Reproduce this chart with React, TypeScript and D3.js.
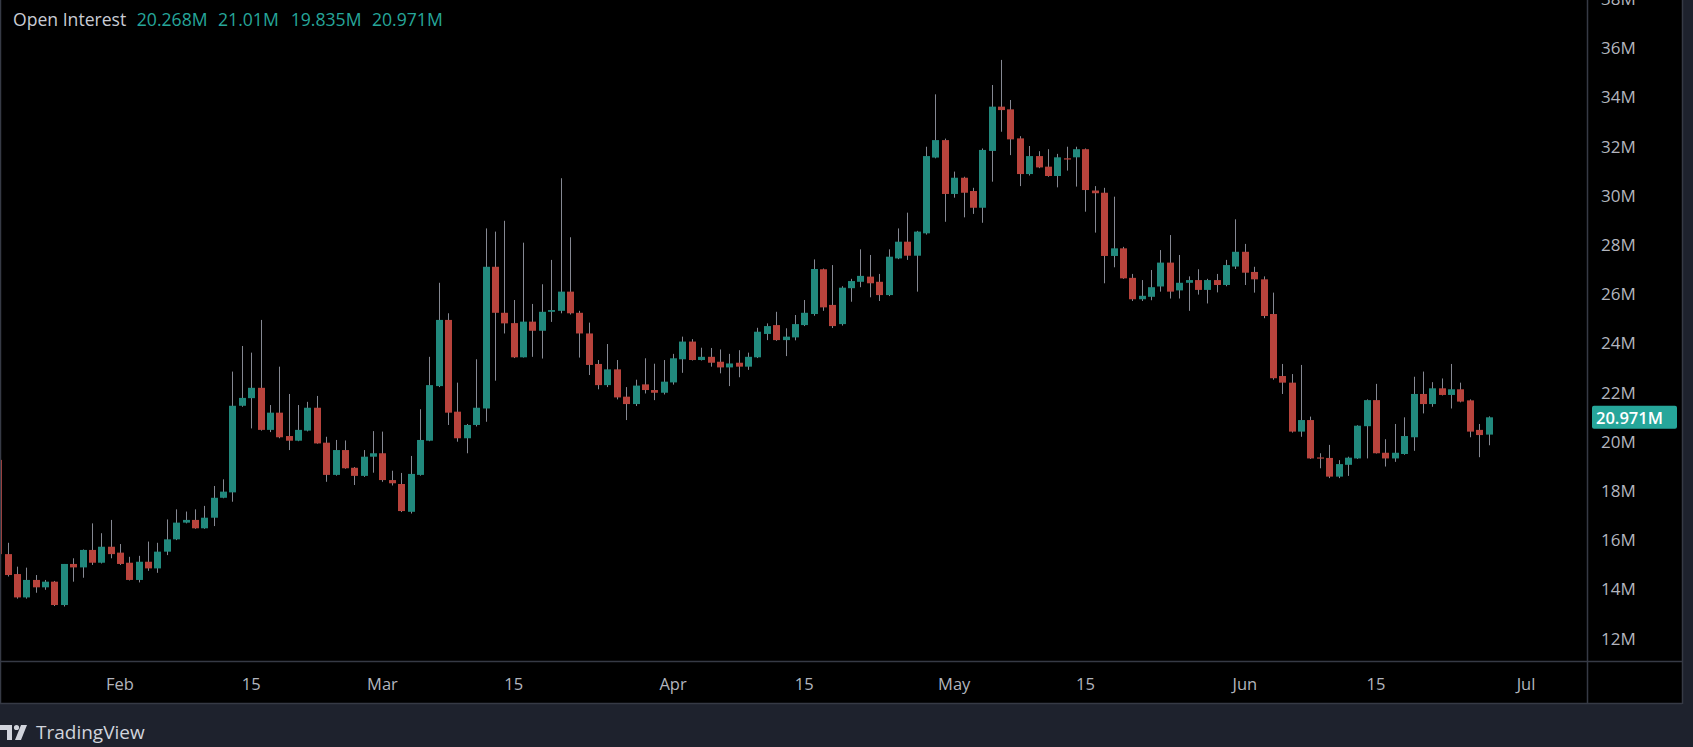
import React from "react";
import * as d3 from "d3";

// Daily open interest candles, 2023-01-19 .. 2023-06-27 (values in millions)
const START_DATE = "2023-01-19";
const open = [19.24,15.41,14.60,13.65,14.36,14.06,14.29,13.34,15.01,14.87,15.58,15.06,15.71,15.47,15.06,14.36,15.10,14.83,15.51,16.01,16.69,16.80,16.46,16.89,17.70,17.92,21.44,21.75,22.17,20.46,21.16,20.21,20.02,20.43,21.36,19.94,18.63,19.64,18.92,18.59,19.37,19.51,18.42,18.26,17.13,18.63,20.02,22.24,24.93,21.20,20.12,20.66,21.33,27.09,25.22,24.80,23.41,24.86,24.49,25.26,25.30,26.08,25.22,24.38,23.14,22.28,22.92,21.81,21.51,22.31,22.08,21.97,22.39,23.33,24.05,23.30,23.43,23.23,23.00,23.19,23.03,23.41,24.36,24.72,24.11,24.22,24.72,25.17,26.99,25.54,24.76,26.22,26.48,26.69,26.48,25.94,27.43,28.11,27.54,28.45,31.53,32.24,30.05,30.71,30.17,29.49,31.80,33.60,33.49,32.31,30.86,31.59,31.16,30.78,31.50,31.54,31.87,30.19,30.10,27.53,27.84,26.64,25.77,25.87,26.29,27.26,26.13,26.44,26.55,26.15,26.55,26.35,27.10,27.70,26.88,26.58,25.17,22.65,22.38,20.39,20.86,19.34,19.32,18.56,19.04,19.30,20.61,21.67,19.53,19.30,19.48,20.16,21.92,21.51,22.15,21.88,22.11,21.66,20.46,20.268];
const high = [19.50,15.87,14.90,14.86,14.56,14.36,14.32,15.01,15.24,15.60,16.66,16.26,16.80,15.82,15.30,15.34,15.92,15.87,16.82,17.23,17.14,17.23,17.37,18.18,18.45,22.83,23.87,23.60,24.93,21.47,23.03,21.92,21.47,21.60,21.84,20.18,20.05,20.03,18.95,19.64,20.41,20.39,18.80,18.71,19.40,21.30,23.43,26.44,25.20,22.38,20.70,23.33,28.65,28.52,28.96,25.74,28.07,25.58,26.38,27.37,30.69,28.29,25.30,24.82,23.30,23.95,23.30,22.20,22.50,23.37,23.15,23.30,23.55,24.25,24.15,23.80,23.79,23.73,23.55,23.70,23.60,24.61,24.79,25.26,24.59,25.13,25.74,27.39,27.02,27.16,26.30,26.60,27.80,27.57,26.80,27.80,28.65,29.29,28.55,31.97,34.10,32.30,30.96,30.75,30.30,31.90,34.48,35.50,33.87,32.40,32.00,31.79,31.87,31.68,31.97,31.97,31.90,30.37,30.30,29.94,27.90,26.80,26.55,26.96,27.77,28.38,27.57,26.70,26.99,26.60,26.80,27.37,29.02,28.02,27.09,26.70,26.04,23.14,22.73,23.10,21.00,19.51,19.85,19.23,19.37,20.65,21.70,22.33,20.08,20.70,20.97,22.62,22.83,22.40,22.55,23.14,22.38,21.70,20.70,21.01];
const low = [15.30,14.50,13.60,13.60,13.84,13.96,13.30,13.28,14.29,14.45,14.97,15.03,15.24,14.97,14.34,14.26,14.73,14.65,15.37,15.98,16.66,16.44,16.44,16.55,17.68,17.54,21.40,20.52,20.43,20.37,20.12,19.64,20.00,20.40,19.90,18.35,18.60,18.88,18.22,18.55,18.72,18.35,18.20,17.12,17.06,18.60,20.00,22.20,20.66,19.98,19.51,20.60,20.79,22.46,24.38,23.38,23.40,23.43,23.36,24.85,25.20,25.15,23.40,22.69,22.11,22.20,21.70,20.86,21.43,21.94,21.67,21.90,22.30,22.78,23.28,23.28,23.03,22.76,22.24,22.60,22.90,23.38,24.11,24.08,23.46,24.10,24.68,25.10,25.30,24.60,24.70,25.67,26.26,25.85,25.70,25.90,27.40,27.37,26.08,28.40,31.50,28.92,29.90,29.10,29.24,28.88,30.55,32.58,31.63,30.37,30.80,31.10,30.75,30.32,31.00,30.35,29.33,28.48,26.42,27.07,26.60,25.70,25.70,25.73,26.08,25.80,25.80,25.30,25.96,25.60,26.05,26.30,27.00,26.35,26.04,25.00,22.50,21.92,20.35,20.18,19.28,18.90,18.50,18.50,18.59,19.28,19.30,19.50,18.97,19.16,19.45,19.61,21.13,21.40,21.86,21.33,21.58,20.16,19.35,19.835];
const close = [15.41,14.56,13.65,14.36,14.06,14.29,13.34,15.01,14.87,15.58,15.06,15.71,15.41,15.01,14.36,15.10,14.83,15.51,16.01,16.69,16.80,16.46,16.89,17.70,17.95,21.44,21.76,22.17,20.46,21.16,20.16,20.02,20.46,21.36,19.91,18.63,19.64,18.90,18.59,19.37,19.51,18.42,18.29,17.16,18.67,20.05,22.28,24.93,21.16,20.12,20.66,21.36,27.09,25.22,24.79,23.41,24.86,24.49,25.26,25.33,26.08,25.20,24.38,23.10,22.28,22.92,21.78,21.51,22.26,22.08,21.97,22.42,23.37,24.05,23.30,23.43,23.19,23.00,23.16,23.03,23.43,24.45,24.68,24.11,24.25,24.76,25.22,27.00,25.44,24.68,26.24,26.51,26.72,26.42,25.94,27.50,28.11,27.54,28.52,31.59,32.24,30.05,30.71,30.10,29.49,31.84,33.60,33.46,32.27,30.86,31.59,31.13,30.78,31.54,31.45,31.87,30.21,30.08,27.53,27.84,26.62,25.77,25.91,26.26,27.26,26.08,26.44,26.55,26.15,26.55,26.35,27.16,27.70,26.85,26.58,25.09,22.56,22.38,20.39,20.86,19.30,19.30,18.56,19.07,19.33,20.63,21.67,19.51,19.30,19.53,20.21,21.92,21.51,22.15,21.88,22.11,21.61,20.39,20.25,20.971];

const priceTicks = [12, 14, 16, 18, 20, 22, 24, 26, 28, 30, 32, 34, 36, 38];
const timeTickDates = ["2023-02-01","2023-02-15","2023-03-01","2023-03-15","2023-04-01","2023-04-15","2023-05-01","2023-05-15","2023-06-01","2023-06-15","2023-07-01"];
const timeTickLabels = ["Feb","15","Mar","15","Apr","15","May","15","Jun","15","Jul"];

const TITLE = "Open Interest";
const headerValues = ["20.268M", "21.01M", "19.835M", "20.971M"];
const lastValue = 20.971;
const lastLabel = "20.971M";

const W = 1693, H = 747;
const PANE_R = 1587, AXIS_R = 1682, PANE_B = 661, AXIS_B = 704;
const UP = "#21897d", DOWN = "#b8433c", WICK = "#858892";
const FONT = "'Open Sans', 'Noto Sans', sans-serif";

export default function App() {
  const parse = d3.utcParse("%Y-%m-%d");
  const start = parse(START_DATE) as Date;
  const dates = open.map((_, i) => d3.utcDay.offset(start, i));

  const x = d3.scaleUtc()
    .domain([parse("2023-02-01") as Date, parse("2023-07-01") as Date])
    .range([120, 1526]);
  const y = d3.scaleLinear().domain([12, 38]).range([638, -1.6]);

  const bodyW = 7;

  return (
    <svg width={W} height={H} style={{ position: "absolute", left: 0, top: 0, display: "block" }}
      fontFamily={FONT}>
      <defs>
        <clipPath id="pane"><rect x={0} y={0} width={PANE_R} height={PANE_B} /></clipPath>
        <clipPath id="paxis"><rect x={PANE_R + 1} y={0} width={AXIS_R - PANE_R - 1} height={PANE_B} /></clipPath>
      </defs>
      <rect x={0} y={0} width={W} height={H} fill="#1e222d" />
      <rect x={0} y={0} width={AXIS_R} height={AXIS_B} fill="#000" />

      {/* candles */}
      <g clipPath="url(#pane)">
        {dates.map((d, i) => {
          const cx = Math.round(x(d));
          const o = open[i], c = close[i];
          const up = c >= o;
          const top = y(Math.max(o, c)), bot = y(Math.min(o, c));
          return (
            <g key={i}>
              <rect x={cx} y={y(high[i])} width={1} height={Math.max(1, y(low[i]) - y(high[i]))} fill={WICK} />
              <rect x={cx - 3} y={top} width={bodyW} height={Math.max(1.2, bot - top)} fill={up ? UP : DOWN} />
            </g>
          );
        })}
      </g>

      {/* header */}
      <text x={13} y={19} dominantBaseline="central" fontSize={17.6}>
        <tspan fill="#c9ccd4">{TITLE}</tspan>
        {headerValues.map((v, i) => (
          <tspan key={i} dx={i === 2 ? 12 : 10.5} fill="#26a69a">{v}</tspan>
        ))}
      </text>

      {/* price axis */}
      <g clipPath="url(#paxis)">
        {priceTicks.map((t) => (
          <text key={t} x={1601} y={y(t)} dominantBaseline="central" fontSize={17} fill="#b2b5be">{t}M</text>
        ))}
      </g>
      <rect x={1592} y={y(lastValue) - 11.5} width={85} height={23} rx={2} fill="#26a69a" />
      <text x={1596} y={y(lastValue)} dominantBaseline="central" fontSize={16.5} fontWeight={600} fill="#ffffff">{lastLabel}</text>

      {/* time axis */}
      {timeTickDates.map((s, i) => (
        <text key={s} x={x(parse(s) as Date)} y={683} textAnchor="middle" dominantBaseline="central"
          fontSize={16.5} fill="#b2b5be">{timeTickLabels[i]}</text>
      ))}

      {/* borders */}
      <g stroke="#363a45" strokeWidth={1.5} fill="none">
        <line x1={0.5} y1={0} x2={0.5} y2={AXIS_B} />
        <line x1={PANE_R + 0.5} y1={0} x2={PANE_R + 0.5} y2={AXIS_B} />
        <line x1={0} y1={PANE_B + 0.5} x2={AXIS_R} y2={PANE_B + 0.5} />
        <line x1={0} y1={AXIS_B - 0.5} x2={AXIS_R} y2={AXIS_B - 0.5} />
        <line x1={AXIS_R + 0.5} y1={0} x2={AXIS_R + 0.5} y2={AXIS_B} />
      </g>

      {/* footer logo */}
      <g fill="#d1d4dc">
        <path d="M0 725 H12 V740 H7 V730 H0 Z" />
        <circle cx={16.5} cy={727.5} r={2.6} />
        <path d="M21 725 H27 L21 740 H15 Z" />
      </g>
      <text x={36} y={732} dominantBaseline="central" fontSize={19} fill="#d1d4dc">TradingView</text>
    </svg>
  );
}
